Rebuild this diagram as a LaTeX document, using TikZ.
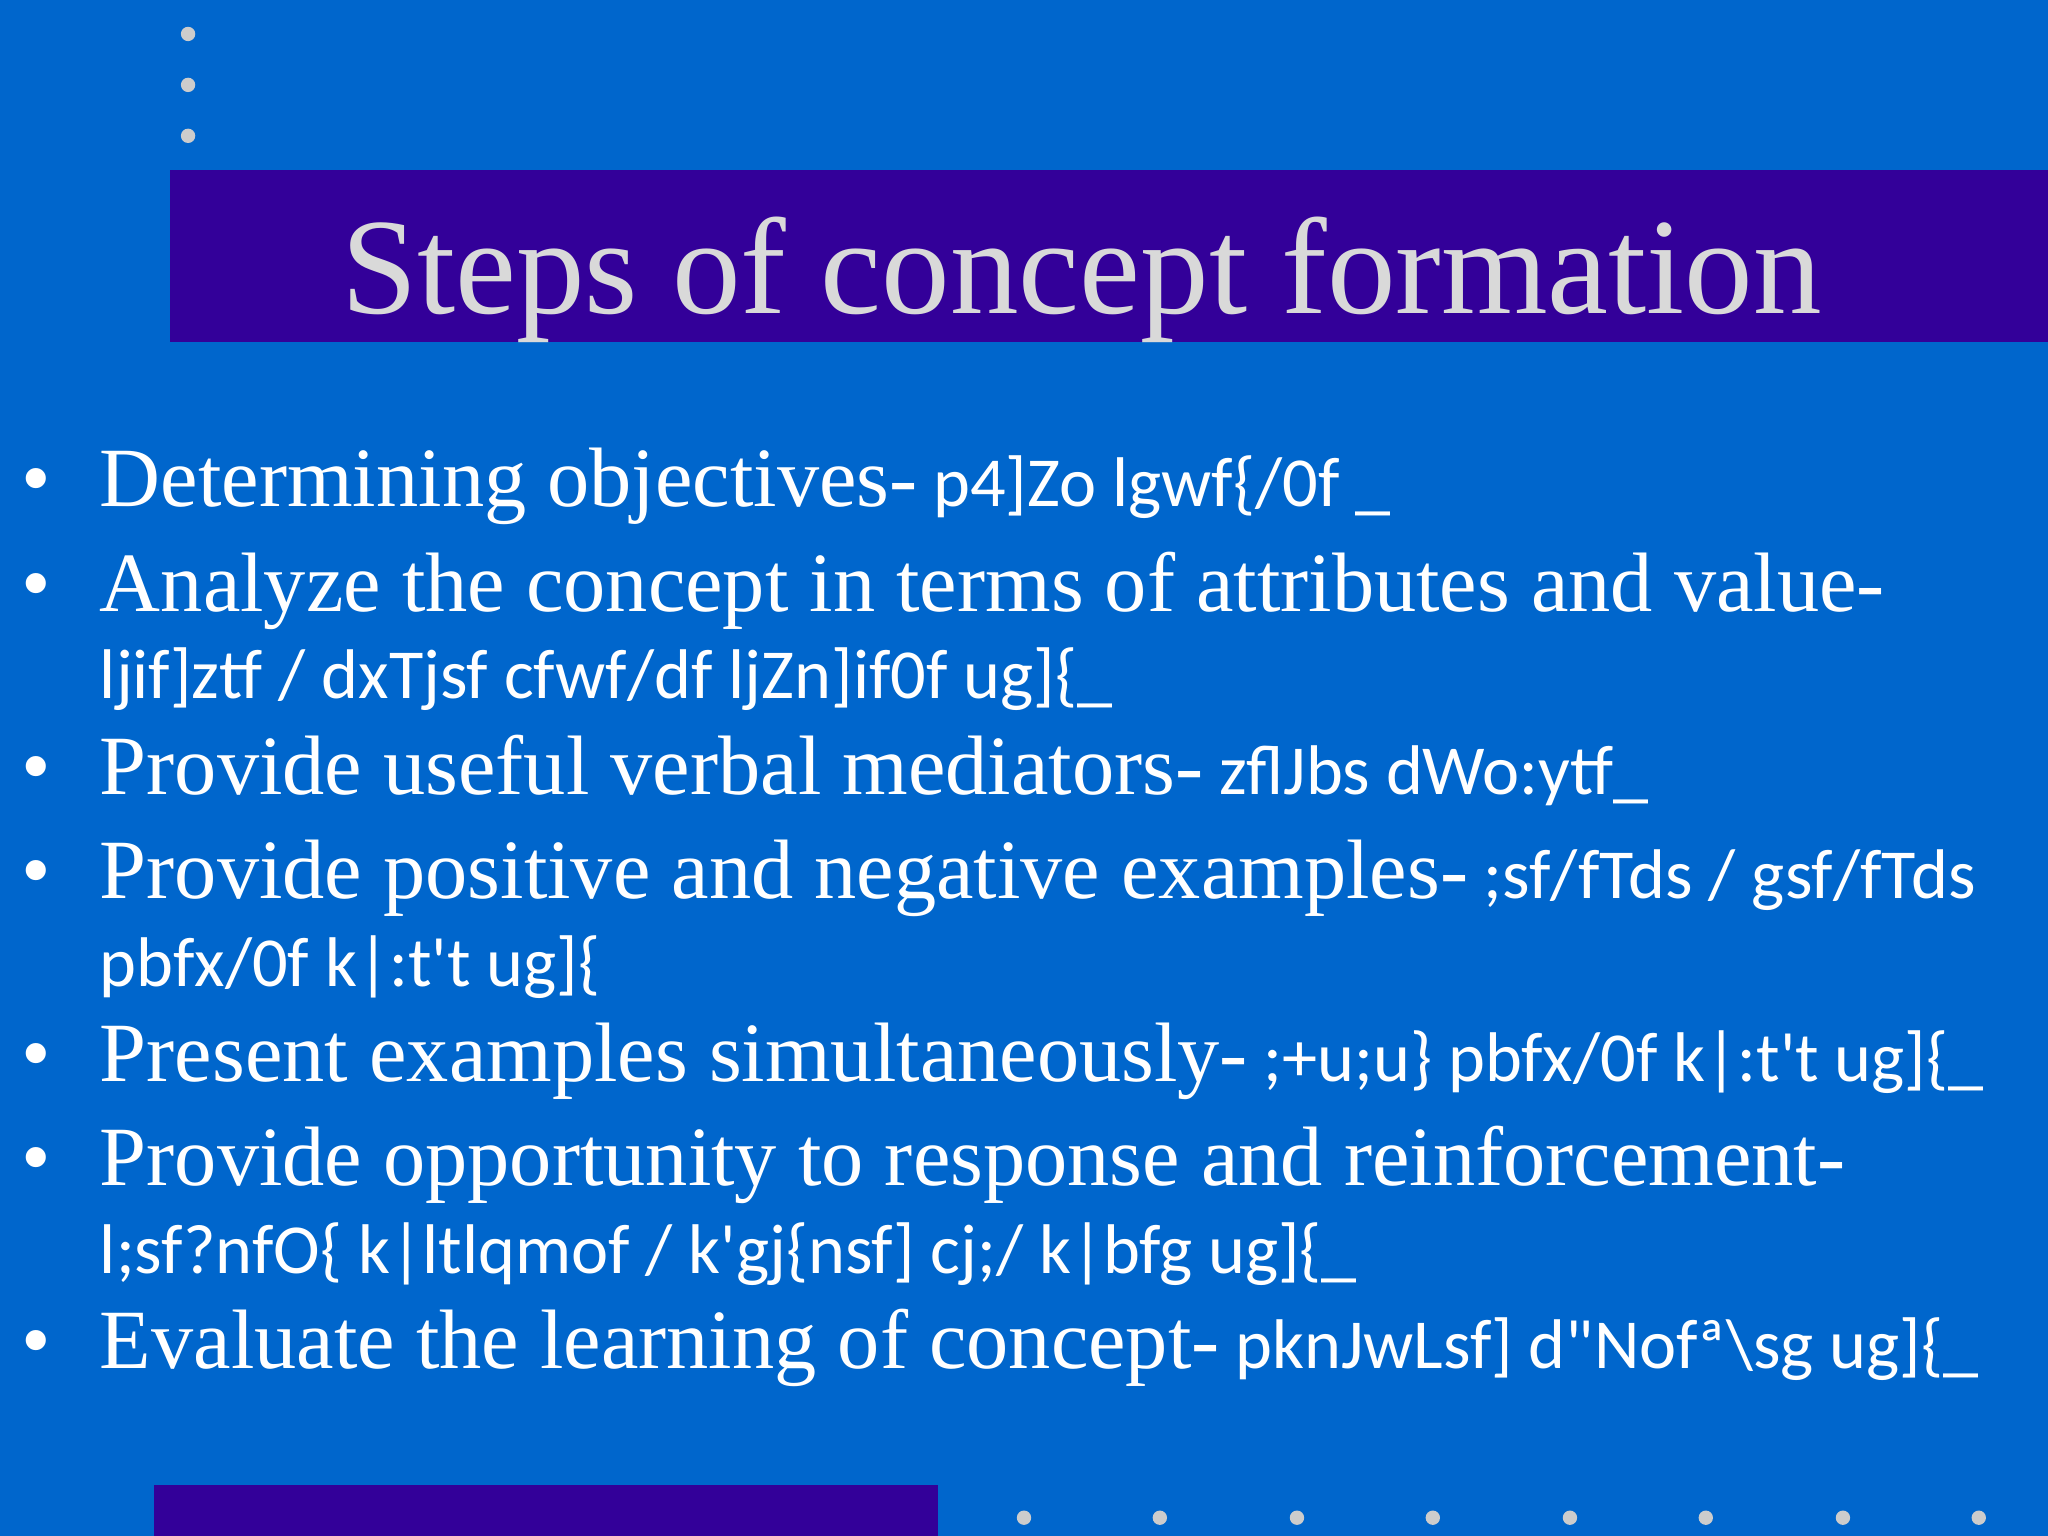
\documentclass[tikz,border=0pt]{standalone}
\usepackage{fontspec}
\setmainfont{Liberation Serif}
\newfontfamily\subf{Carlito}
\definecolor{bgblue}{HTML}{0066CC}
\definecolor{band}{HTML}{330099}
\definecolor{ttl}{HTML}{D9D9D9}
\newcommand\subtxt[1]{{\subf\fontsize{20}{24}\selectfont #1}}
\begin{document}
\begin{tikzpicture}[x=0.013061cm,y=-0.013061cm,
  dotc/.style={fill=ttl!85!gray,draw=none},
  main/.style={anchor=base west,inner sep=0pt,text=white,font=\fontsize{24}{28}\selectfont},
  bul/.style={anchor=base,inner sep=0pt,text=white,font=\fontsize{24}{28}\selectfont}]
\useasboundingbox (0,0) rectangle (1568,1176);
\fill[bgblue] (0,0) rectangle (1568,1176);
\foreach \yy in {26,65,104} \fill[dotc] (144,\yy) circle (5.5);
\fill[band] (130,130) rectangle (1568,262);
\node[anchor=base,text=ttl,inner sep=0pt,font=\fontsize{39}{44}\selectfont] (title) at (828,240) {Steps of concept formation};
\fill[band] (118,1137) rectangle (718,1176);
\foreach \xx in {784,888,993,1097,1202,1306,1411,1515} \fill[dotc] (\xx,1162) circle (5.5);
\foreach \yy/\n in {388/1,468/2,608/3,688/4,828/5,908/6,1048/7} \node[bul] (b\n) at (28,\yy) {•};
\node[main] (l1) at (76,388) {Determining objectives-\subtxt{ p4]Zo lgwf\{/0f \_}};
\node[main] (l2) at (76,468) {Analyze the concept in terms of attributes and value-};
\node[main] (l2b) at (76,535) {\subtxt{ljif]ztf / dxTjsf cfwf/df ljZn]if0f ug]\{\_}};
\node[main] (l3) at (76,608) {Provide useful verbal mediators-\subtxt{ zflJbs dWo:ytf\_}};
\node[main] (l4) at (76,688) {Provide positive and negative examples-\subtxt{ ;sf/fTds / gsf/fTds}};
\node[main] (l4b) at (76,755) {\subtxt{pbfx/0f k|:t't ug]\{}};
\node[main] (l5) at (76,828) {Present examples simultaneously-\subtxt{ ;+u;u\} pbfx/0f k|:t't ug]\{\_}};
\node[main] (l6) at (76,908) {Provide opportunity to response and reinforcement-};
\node[main] (l6b) at (76,975) {\subtxt{l;sf?nfO\{ k|ltlqmof / k'gj\{nsf] cj;/ k|bfg ug]\{\_}};
\node[main] (l7) at (76,1048) {Evaluate the learning of concept-\subtxt{ pknJwLsf] d"Nofª\textbackslash sg ug]\{\_}};
\end{tikzpicture}
\end{document}
